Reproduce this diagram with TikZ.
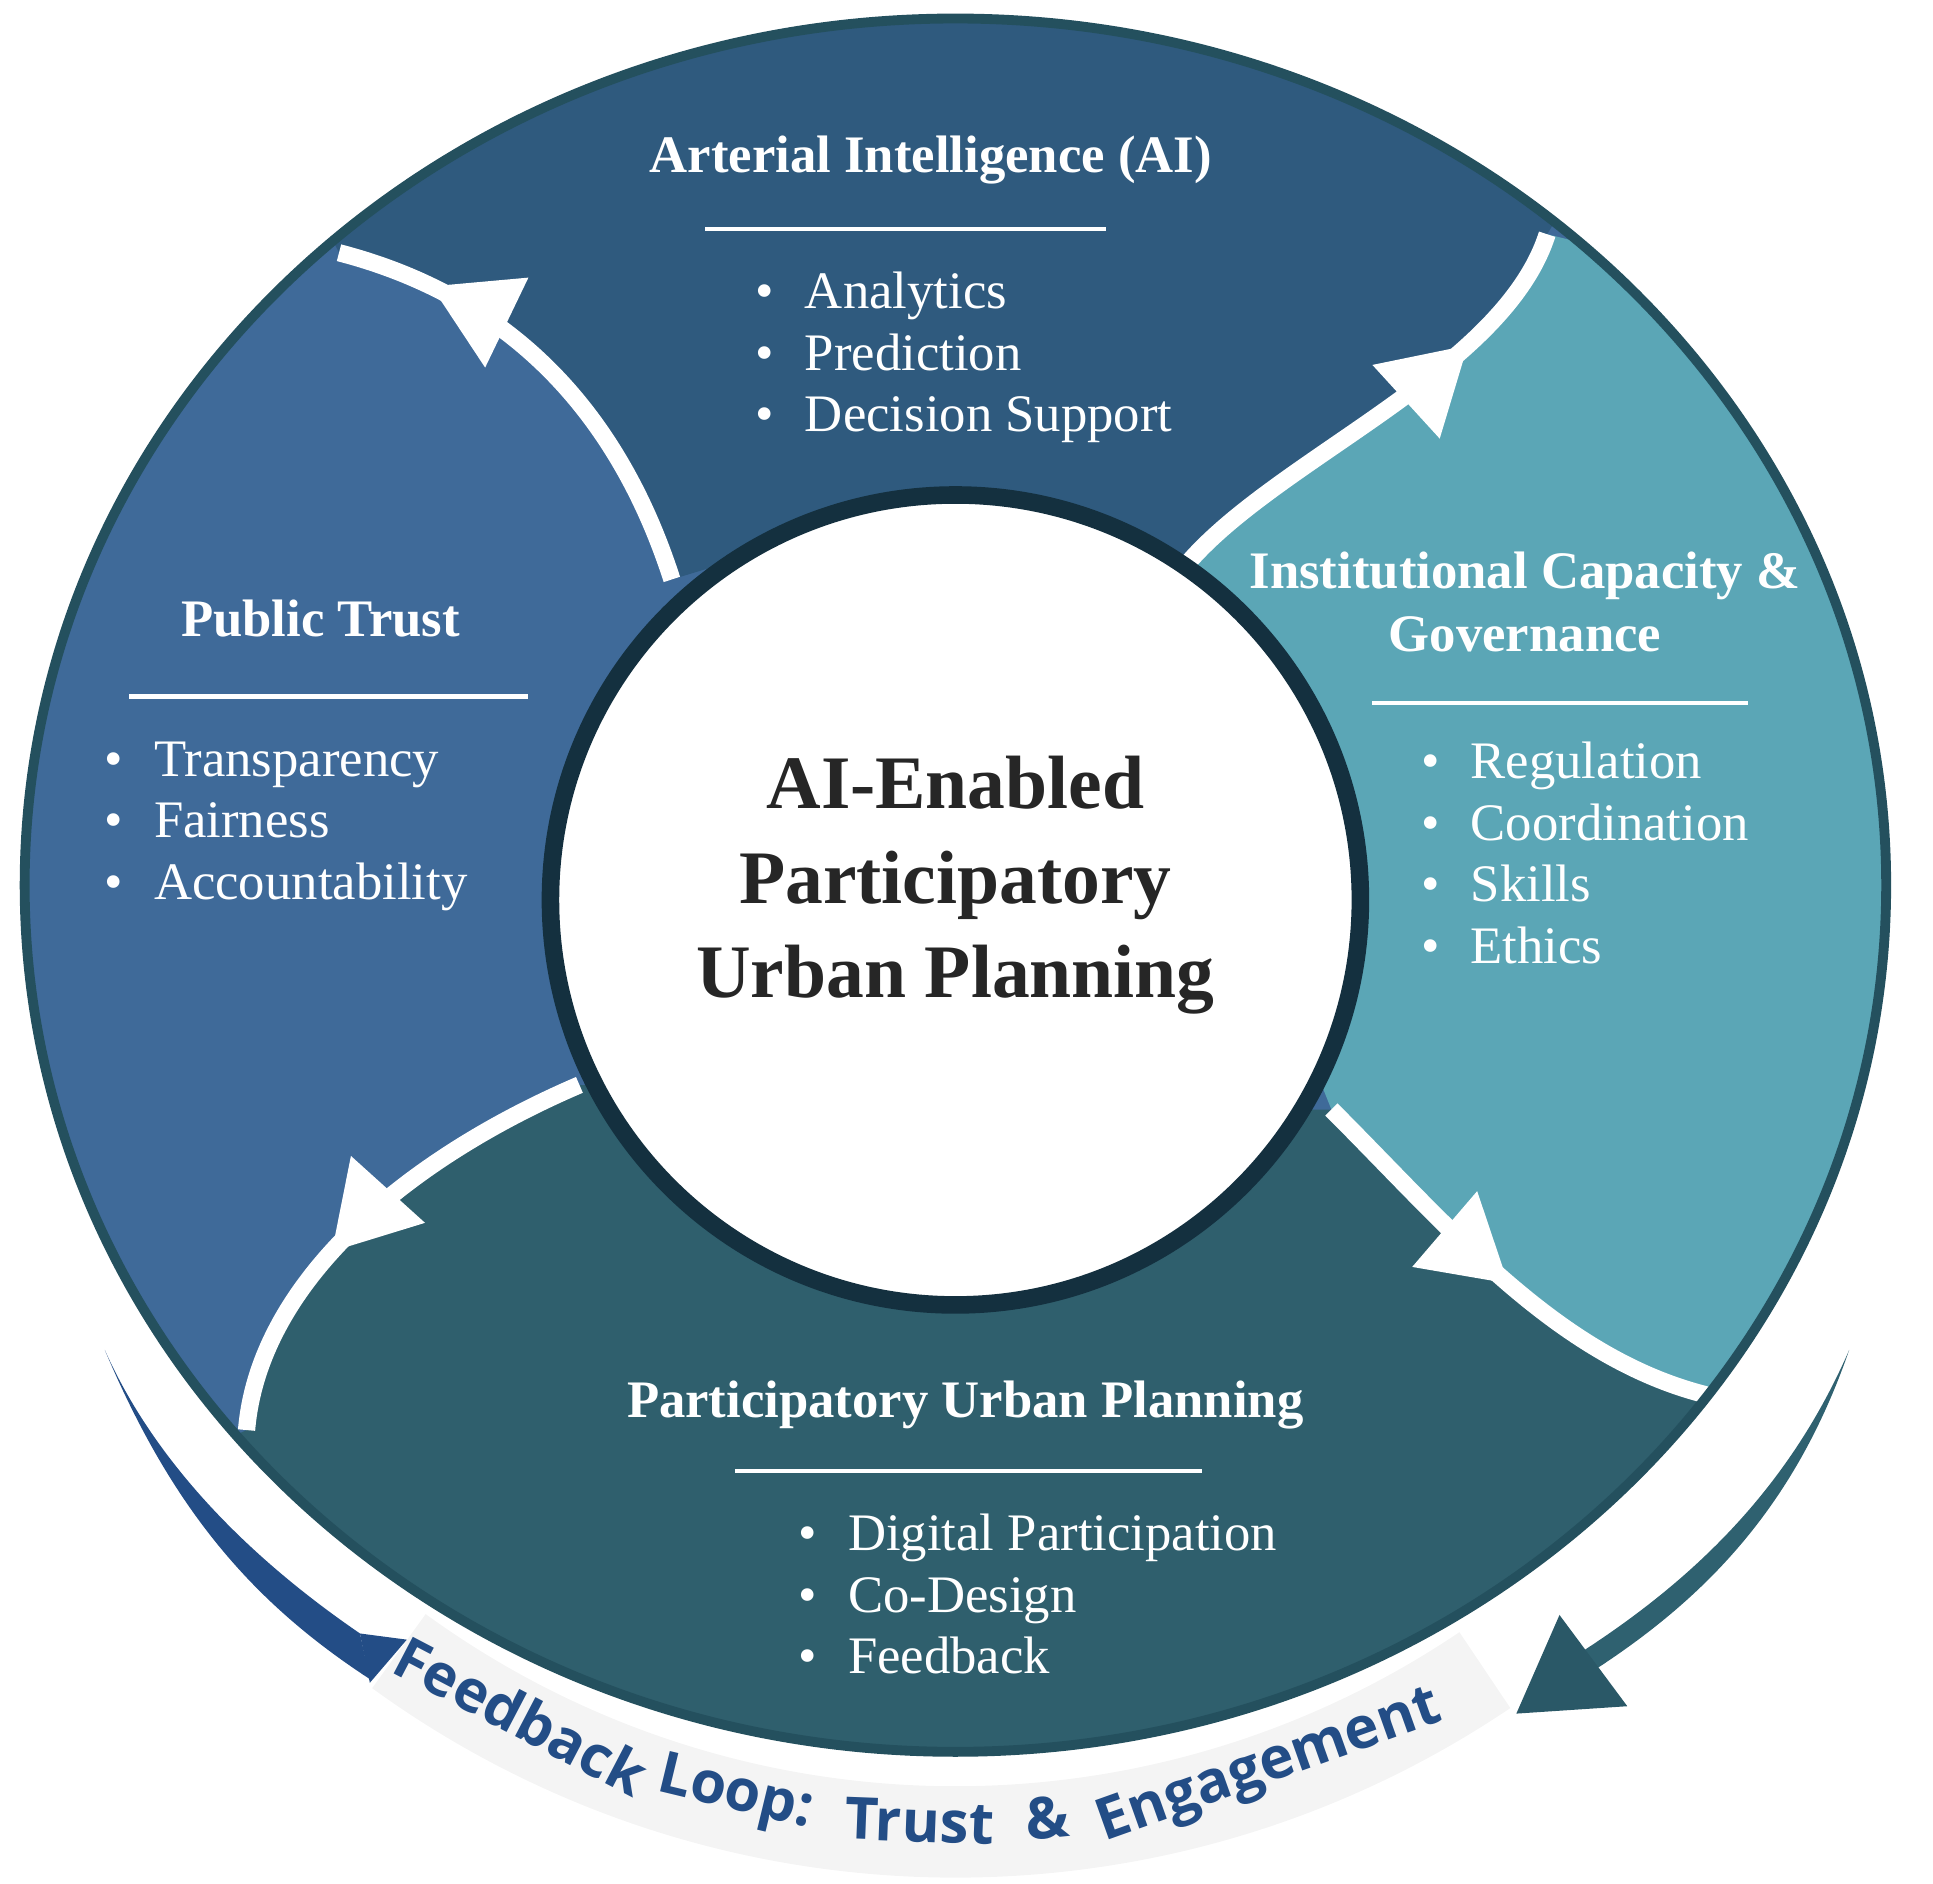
\documentclass[tikz,border=0pt]{standalone}
\usepackage{fontspec}
\setmainfont{Liberation Serif}
\newfontfamily\fbfont{Open Sans}
\usetikzlibrary{arrows.meta,decorations.markings}
\definecolor{ctop}{HTML}{2F5A7E}
\definecolor{cleft}{HTML}{3F6A99}
\definecolor{cright}{HTML}{5BA6B6}
\definecolor{cbot}{HTML}{2F5F6D}
\definecolor{cring}{HTML}{24505E}
\definecolor{cinner}{HTML}{14303F}
\definecolor{cfb}{HTML}{234D86}
\begin{document}
\begin{tikzpicture}[x=0.01233cm,y=-0.01233cm,
  ttl/.style={text=white,font=\fontsize{15}{18}\selectfont\bfseries,align=center},
  lst/.style={text=white,font=\fontsize{15}{17.5}\selectfont,anchor=west,align=left},
  rule/.style={white,line width=1.2pt},
  fbw/.style={text=cfb,font=\fbfont\fontsize{16.5}{20}\selectfont\bfseries,inner sep=0pt},
  warrow/.style={white,line width=4.9pt,postaction={decorate},
    decoration={markings,mark=at position #1 with {\arrow{Triangle[length=24pt,width=27pt]}}}}]
\newcommand{\bu}{\makebox[14pt][l]{\textbullet}}
\useasboundingbox (0,0) rectangle (1568,1528);
% feedback band
\draw[gray!9,line width=26pt] (775,718) ++(126:768) arc[start angle=126,end angle=56,radius=768];
% swooshes
\fill[cfb] (85,1095) .. controls (140,1225) and (205,1300) .. (300,1362) -- (292,1325) .. controls (200,1262) and (125,1185) .. cycle;
\fill[cfb] (292,1325) -- (330,1330) -- (300,1365) -- cycle;
\fill[cring!80!cright] (1500,1095) .. controls (1455,1225) and (1380,1300) .. (1285,1360) -- (1275,1345) .. controls (1370,1285) and (1450,1210) .. cycle;
\fill[cring!90!cright] (1230,1390) -- (1320,1384) -- (1265,1310) -- cycle;
% feedback text
\node[fbw,rotate=-27.6] (w1) at ([shift={(117.6:760)}]775,718) {Feedback};
\node[fbw,rotate=-13.6] (w2) at ([shift={(103.6:760)}]775,718) {Loop:};
\node[fbw,rotate=-2.2] (w3) at ([shift={(92.2:760)}]775,718) {Trust};
\node[fbw,rotate=5.6] (w4) at ([shift={(84.4:760)}]775,718) {\&};
\node[fbw,rotate=19.6] (w5) at ([shift={(70.4:760)}]775,718) {Engagement};
% disk
\begin{scope}
\clip (775,718) ellipse[x radius=755,y radius=703];
\fill[cleft] (775,718) ellipse[x radius=755,y radius=703];
\fill[ctop] (545,470) .. controls (500,330) and (410,240) .. (275,205) -- (150,-50) -- (1400,-50) -- (1255,190) .. controls (1220,300) and (1040,370) .. (965,455) -- (775,400) -- cycle;
\fill[cright] (965,455) .. controls (1040,370) and (1220,300) .. (1255,190) -- (1700,300) -- (1700,1200) -- (1400,1135) .. controls (1270,1110) and (1180,1000) .. (1080,900) -- (1000,700) -- cycle;
\fill[cbot] (1080,900) .. controls (1180,1000) and (1270,1110) .. (1400,1135) -- (1700,1200) -- (1700,1700) -- (-100,1700) -- (-100,1300) -- (200,1160) .. controls (210,1040) and (330,940) .. (470,880) -- (775,900) -- cycle;
\draw[warrow=0.8] (545,470) .. controls (500,330) and (410,240) .. (275,205);
\draw[warrow=0.72] (965,455) .. controls (1040,370) and (1220,300) .. (1255,190);
\draw[warrow=0.5] (1080,900) .. controls (1180,1000) and (1270,1110) .. (1400,1135);
\draw[warrow=0.6] (470,880) .. controls (330,940) and (210,1040) .. (200,1160);
\end{scope}
\draw[cring,line width=2.8pt] (775,718) ellipse[x radius=755,y radius=703];
% inner circle
\node[circle,draw=cinner,line width=5pt,fill=white,minimum size=8.1cm] (c) at (775,730) {};
\node[font=\fontsize{21.5}{27}\selectfont\bfseries,align=center,text=black!85] (ct) at (775,718) {AI-Enabled\\Participatory\\Urban Planning};
% AI
\node[ttl] (t1) at (755,130) {Arterial Intelligence (AI)};
\draw[rule] (572,186) -- (897,186);
\node[lst] (l1) at (603,290) {\bu Analytics\\ \bu Prediction\\ \bu Decision Support};
% Public trust
\node[ttl] (t2) at (260,502) {Public Trust};
\draw[rule] (105,565) -- (428,565);
\node[lst] (l2) at (75,670) {\bu Transparency\\ \bu Fairness\\ \bu Accountability};
% Institutional
\node[ttl] (t3) at (1237,488) {Institutional Capacity \&\\Governance};
\draw[rule] (1113,570) -- (1418,570);
\node[lst] (l3) at (1143,692) {\bu Regulation\\ \bu Coordination\\ \bu Skills\\ \bu Ethics};
% Participatory
\node[ttl] (t4) at (783,1140) {Participatory Urban Planning};
\draw[rule] (596,1193) -- (975,1193);
\node[lst] (l4) at (638,1293) {\bu Digital Participation\\ \bu Co-Design\\ \bu Feedback};
\end{tikzpicture}
\end{document}
